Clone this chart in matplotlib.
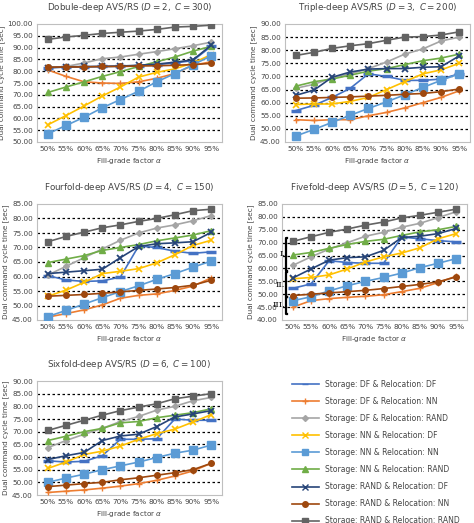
import matplotlib
matplotlib.use("Agg")
import matplotlib.pyplot as plt

x_labels = ["50%", "55%", "60%", "65%", "70%", "75%", "80%", "85%", "90%", "95%"]
series_names = ["Storage: DF & Relocation: DF", "Storage: DF & Relocation: NN",
                "Storage: DF & Relocation: RAND", "Storage: NN & Relocation: DF",
                "Storage: NN & Relocation: NN", "Storage: NN & Relocation: RAND",
                "Storage: RAND & Relocation: DF", "Storage: RAND & Relocation: NN",
                "Storage: RAND & Relocation: RAND"]

# order: DFDF, DFNN, DFRAND, NNDF, NNNN, NNRAND, RANDDF, RANDNN, RANDRAND
d2 = [
    [81.5, 81.7, 81.8, 82.0, 82.1, 82.4, 82.8, 83.5, 84.5, 90.5],
    [80.5, 77.8, 75.5, 75.0, 74.8, 75.5, 77.0, 79.0, 82.5, 84.0],
    [81.5, 82.0, 83.5, 85.3, 86.0, 87.2, 88.3, 89.5, 90.8, 92.3],
    [57.3, 61.2, 65.3, 69.5, 73.3, 77.5, 79.5, 81.0, 83.5, 87.0],
    [53.5, 57.0, 60.5, 64.5, 68.0, 71.5, 75.5, 79.0, 82.7, 86.5],
    [71.0, 73.3, 75.5, 77.8, 79.8, 82.0, 84.0, 86.0, 88.5, 90.5],
    [81.5, 81.8, 82.0, 82.0, 82.2, 82.5, 83.0, 83.8, 84.8, 91.0],
    [81.7, 81.8, 81.8, 82.0, 82.0, 82.2, 82.3, 82.5, 82.8, 83.3],
    [93.5, 94.5, 95.2, 96.0, 96.5, 97.0, 97.7, 98.7, 99.0, 99.5],
]
d3 = [
    [57.0, 59.0, 62.0, 65.5, 71.0, 70.0, 68.5, 68.5, 69.0, 71.0],
    [53.5, 53.2, 53.5, 53.5, 55.0, 56.3, 58.0, 60.0, 62.0, 64.5],
    [65.5, 67.0, 69.5, 71.0, 73.0, 75.5, 78.5, 80.5, 83.5, 85.0],
    [59.3, 59.5, 59.5, 60.5, 62.0, 65.0, 68.0, 71.0, 72.5, 75.0],
    [47.3, 49.8, 52.5, 55.2, 57.8, 60.3, 63.0, 65.8, 68.5, 71.0],
    [66.3, 68.0, 69.0, 70.5, 72.0, 73.0, 74.5, 76.0, 77.0, 78.5],
    [62.8, 64.8, 69.7, 71.7, 72.8, 73.0, 73.0, 73.5, 73.7, 77.8],
    [61.7, 61.8, 62.0, 62.2, 62.5, 62.8, 63.2, 63.5, 64.2, 65.2],
    [78.0, 79.2, 80.7, 81.7, 82.5, 83.8, 85.0, 85.2, 85.8, 87.0],
]
d4 = [
    [60.3, 58.8, 58.3, 58.5, 59.8, 70.5, 70.0, 68.7, 68.0, 68.5],
    [46.0, 47.2, 48.5, 50.2, 52.5, 53.5, 54.0, 55.2, 56.7, 59.5],
    [60.5, 63.5, 66.5, 69.5, 72.5, 75.0, 76.7, 77.8, 79.2, 81.0],
    [53.2, 55.3, 58.0, 61.0, 61.8, 62.7, 64.7, 67.5, 70.7, 72.5],
    [46.2, 48.3, 50.5, 52.7, 54.8, 56.8, 59.0, 61.0, 63.2, 65.3],
    [64.8, 66.0, 67.2, 69.0, 70.0, 71.0, 72.3, 73.3, 74.3, 75.8],
    [61.0, 61.5, 62.0, 62.5, 66.5, 70.3, 71.3, 71.6, 72.0, 75.2],
    [53.2, 53.5, 53.8, 54.2, 54.7, 55.2, 55.7, 56.2, 57.0, 58.7],
    [72.0, 73.8, 75.3, 76.8, 77.8, 79.0, 80.0, 81.3, 82.7, 83.2],
]
d5 = [
    [52.3, 54.0, 63.0, 62.3, 62.0, 62.0, 72.2, 71.5, 70.8, 70.3],
    [45.0, 47.5, 48.3, 48.8, 49.2, 49.8, 51.0, 52.3, 54.5, 57.0],
    [61.2, 64.5, 67.5, 70.0, 72.5, 74.0, 76.0, 77.5, 79.7, 82.0],
    [56.0, 56.5, 57.5, 59.8, 62.5, 64.5, 66.0, 68.0, 71.5, 73.5],
    [47.5, 49.0, 51.3, 53.3, 55.0, 56.5, 58.2, 60.3, 62.0, 63.8],
    [65.2, 66.2, 67.8, 69.3, 70.5, 71.3, 72.8, 74.2, 75.0, 76.3],
    [56.3, 59.8, 63.2, 64.2, 64.5, 67.0, 72.0, 72.5, 73.5, 75.5],
    [49.5, 50.0, 50.5, 51.0, 51.5, 52.2, 53.0, 53.8, 54.8, 56.7],
    [70.5, 72.3, 74.0, 75.3, 76.8, 78.0, 79.6, 80.6, 81.8, 83.0],
]
d6 = [
    [58.5, 58.0, 58.3, 60.5, 67.0, 67.0, 67.2, 75.0, 74.5, 74.5],
    [46.0, 46.5, 47.0, 47.7, 48.5, 49.5, 50.8, 52.5, 54.5, 57.5],
    [63.7, 66.5, 69.0, 71.3, 74.0, 76.0, 78.5, 80.0, 82.2, 83.5],
    [55.5, 58.0, 61.0, 62.3, 64.3, 67.0, 69.2, 71.0, 73.8, 76.7],
    [50.0, 51.7, 53.2, 55.0, 56.5, 58.0, 59.8, 61.5, 62.7, 64.7],
    [66.5, 68.2, 70.0, 71.3, 73.5, 74.0, 75.5, 76.5, 77.5, 79.0],
    [59.0, 60.5, 61.8, 66.5, 68.3, 69.0, 72.0, 75.8, 77.0, 78.3],
    [48.3, 48.9, 49.5, 50.0, 51.0, 51.8, 52.8, 53.8, 55.0, 57.5],
    [70.5, 72.5, 74.5, 76.5, 78.3, 79.7, 81.0, 83.0, 84.0, 85.0],
]

colors = ["#4472C4", "#ED7D31", "#A5A5A5", "#FFC000", "#5B9BD5",
          "#70AD47", "#264478", "#9E480E", "#636363"]
markers = ["_", "+", "D", "x", "s", "^", "x", "o", "s"]
msizes = [7, 5, 3, 4, 6, 4, 4, 4, 4]
mews = [2.5, 1, 1, 1.2, 1, 1, 1.3, 1, 1]

panels = [
    ("Dobule-deep AVS/RS (", "D=2, C=300", ")", d2, 50, 100, [37, 24, 118]),
    ("Triple-deep AVS/RS (", "D=3, C=200", ")", d3, 45, 90, [285, 24, 118]),
    ("Fourfold-deep AVS/RS (", "D=4, C=150", ")", d4, 45, 85, [37, 204, 116]),
    ("Fivefold-deep AVS/RS (", "D=5, C=120", ")", d5, 40, 85, [282, 204, 116]),
    ("Sixfold-deep AVS/RS (", "D=6, C=100", ")", d6, 45, 90, [37, 381, 114]),
]

W, H = 474, 523
fig = plt.figure(figsize=(W / 100, H / 100), dpi=100)
plt.rcParams["font.size"] = 5.5
xs = list(range(len(x_labels)))

for pre, it, post, data, lo, hi, (px, py, ph) in panels:
    pw = 185
    ax = fig.add_axes([px / W, 1 - (py + ph) / H, pw / W, ph / H])
    for k in range(9):
        ax.plot(xs, data[k], color=colors[k], marker=markers[k], ms=msizes[k],
                mew=mews[k], lw=1.2, zorder=3)
    ax.set_ylim(lo, hi)
    ax.set_xlim(-0.6, 9.6)
    ax.set_yticks(range(lo, hi + 1, 5))
    ax.set_yticklabels([f"{v:.2f}" for v in range(lo, hi + 1, 5)], fontsize=5.2, color="#444")
    ax.set_xticks(xs)
    ax.set_xticklabels(x_labels, fontsize=5.2, color="#444")
    ax.tick_params(length=0, pad=3)
    for y in range(lo + 5, hi, 5):
        ax.axhline(y, color="black", ls=(0, (2, 2)), lw=0.9, zorder=1)
    for s in ax.spines.values():
        s.set_color("#BFBFBF")
        s.set_linewidth(0.8)
    ax.set_ylabel("Dual command cycle time [sec]", fontsize=5.2, color="#444", labelpad=2)
    ax.set_xlabel(r"Fill-grade factor $\alpha$", fontsize=5.2, color="#444", labelpad=3)
    ax.set_title(pre + r"$\it{" + it.replace(" ", r"\ ") + "}$" + post,
                 fontsize=6.3, color="#444", pad=10)
    if data is d5:
        for lab, y0, y1 in [("I.", 59, 72), ("II.", 49, 58.5), ("III.", 42.5, 49)]:
            ax.plot([-0.3, -0.4, -0.4, -0.3], [y1, y1, y0, y0], color="black",
                    lw=1.6, clip_on=False, zorder=5)
            ax.text(-0.42, (y0 + y1) / 2, lab, ha="right", va="center",
                    fontsize=6, family="serif", clip_on=False)

# legend
lax = fig.add_axes([289 / W, 1 - 505 / H, 180 / W, 128 / H])
lax.axis("off")
handles = [plt.Line2D([], [], color=colors[k], marker=markers[k], ms=min(msizes[k], 4),
                      mew=1, lw=1.2) for k in range(9)]
lax.legend(handles, series_names, loc="upper left", frameon=False, fontsize=5.5,
           labelcolor="#444", handlelength=3.5, labelspacing=1.05, borderaxespad=0)

fig.savefig("out.png", dpi=100)
